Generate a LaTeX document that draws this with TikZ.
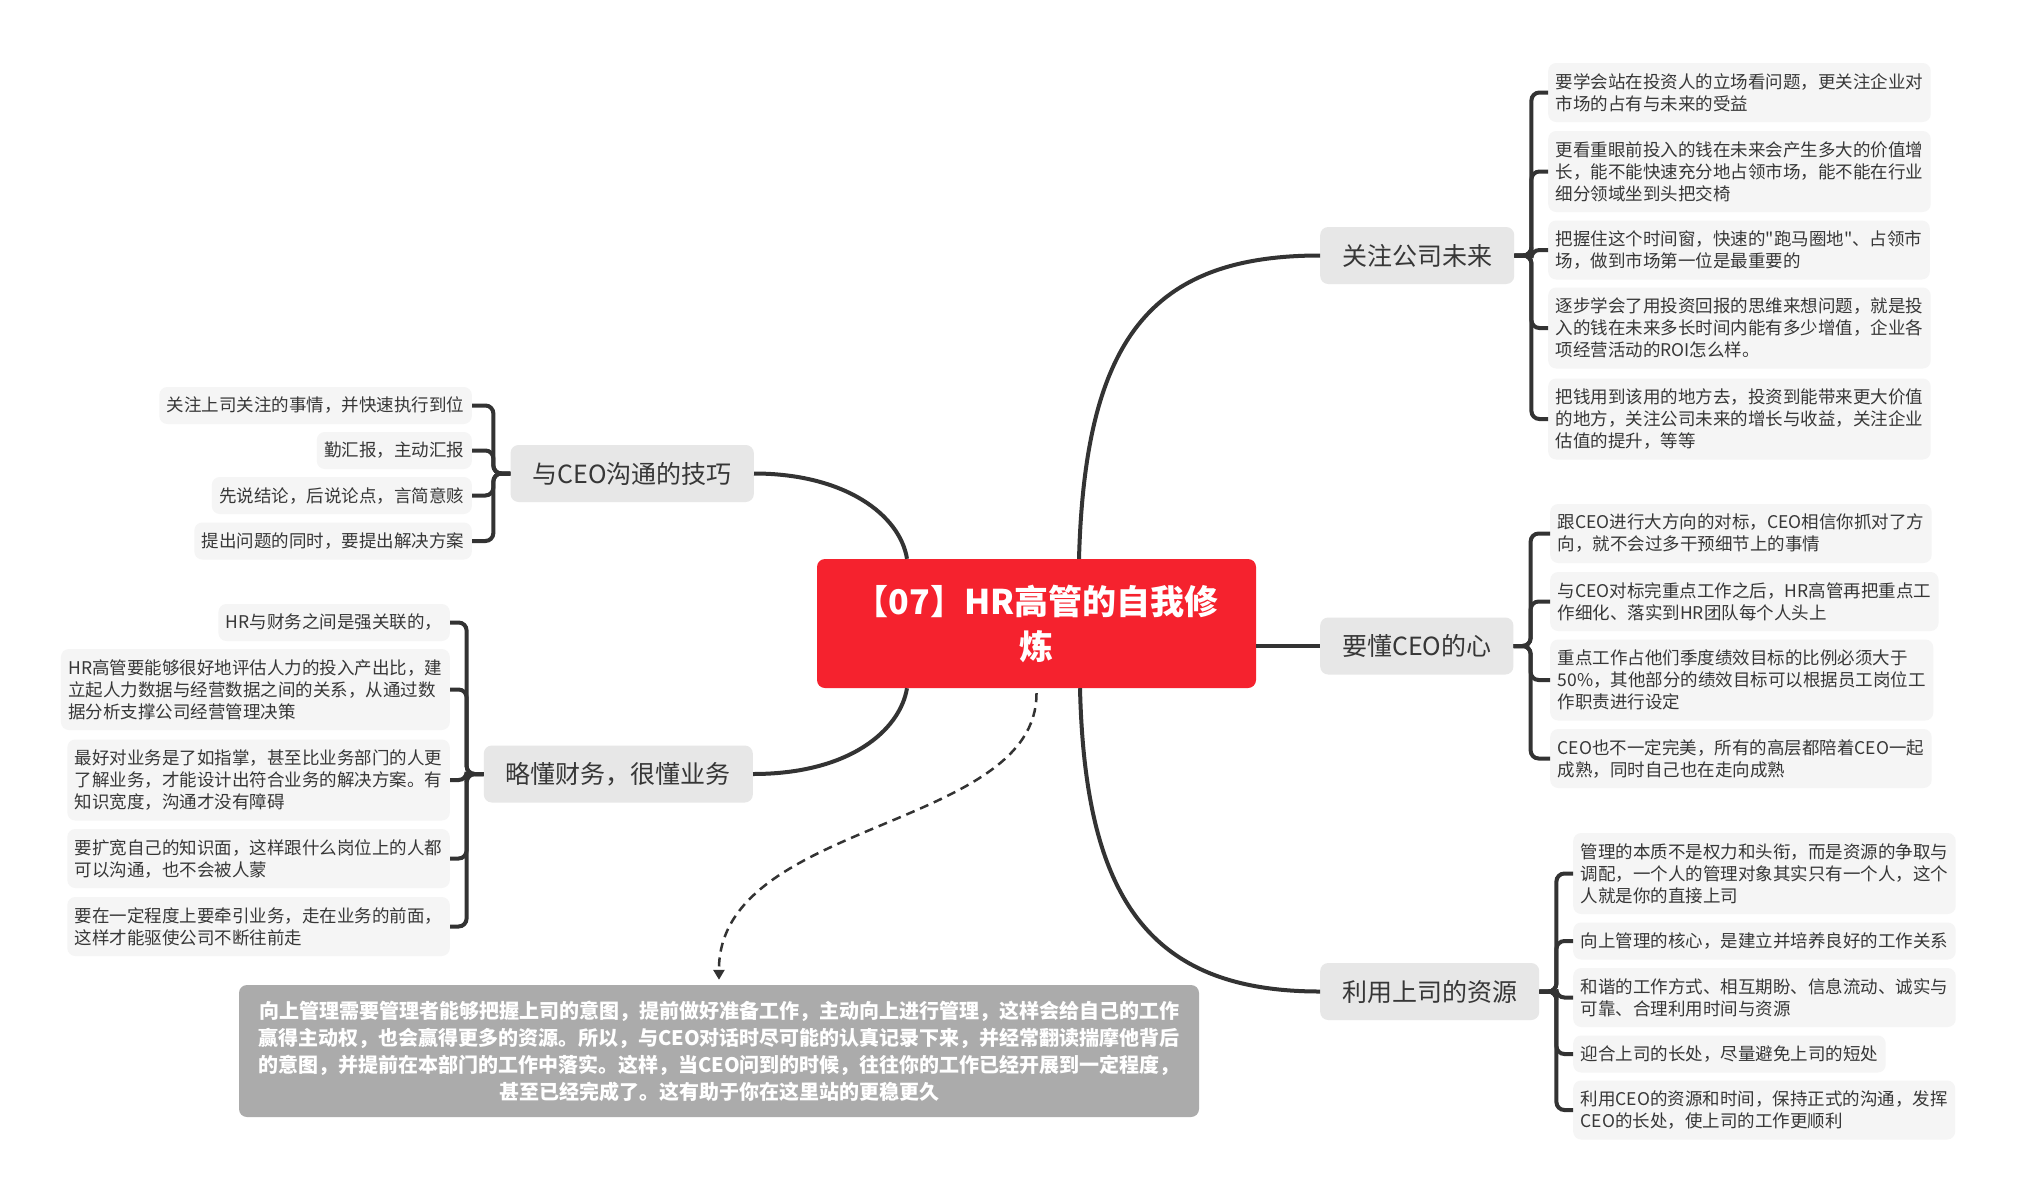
\documentclass[tikz,border=0pt]{standalone}
\usepackage{fontspec}
\setmainfont{Noto Sans CJK SC}[Ligatures=TeXOff]
\usetikzlibrary{arrows.meta}
\definecolor{linec}{RGB}{51,51,51}
\definecolor{centerred}{RGB}{245,34,46}
\definecolor{branchfill}{RGB}{231,231,231}
\definecolor{leaffill}{RGB}{245,245,245}
\definecolor{txt}{RGB}{55,55,55}
\definecolor{sumfill}{RGB}{171,171,171}
\begin{document}
\begin{tikzpicture}[x=1pt,y=-1pt,
  centernode/.style={fill=centerred, rounded corners=8pt, text=white, font=\fontsize{34}{45}\selectfont\bfseries, align=center, minimum width=439pt, minimum height=129pt, inner sep=0pt},
  branchnode/.style={fill=branchfill, rounded corners=8pt, text=txt, font=\fontsize{25}{30}\selectfont, minimum height=57pt, inner xsep=22pt, inner ysep=0pt},
  leafnode/.style={fill=leaffill, rounded corners=8pt, text=txt, font=\fontsize{17.5}{22}\selectfont, align=left, inner xsep=7.5pt, inner ysep=0pt},
  lfone/.style={leafnode, minimum height=37pt},
  lftwo/.style={leafnode, minimum height=59pt},
  lfthree/.style={leafnode, minimum height=81pt},
  sumnode/.style={fill=sumfill, rounded corners=8pt, text=white, font=\fontsize{20}{27}\selectfont\bfseries, align=center, minimum width=960pt, minimum height=132pt, inner sep=0pt},
  mainline/.style={draw=linec, line width=4pt},
  brk/.style={draw=linec, line width=4pt, rounded corners=8pt},
  dashconn/.style={draw=linec, line width=2.5pt, dash pattern=on 9pt off 6pt, -{Triangle[width=11pt,length=10pt]}}
]
\fill[white] (0,0) rectangle (2020,1202);
\useasboundingbox (0,0) rectangle (2020,1202);

% central node
\node[centernode] (C) at (1036.5,623.5) {【07】HR高管的自我修\\炼};

% branch nodes
\node[branchnode, anchor=west] (bA) at (1320,255.5) {关注公司未来};
\node[branchnode, anchor=west] (bB) at (1320,646) {要懂CEO的心};
\node[branchnode, anchor=west] (bC) at (1320,991.5) {利用上司的资源};
\node[branchnode, anchor=east] (bD) at (754,473.5) {与CEO沟通的技巧};
\node[branchnode, anchor=east] (bE) at (753,774) {略懂财务，很懂业务};

% leaves of bA
\node[lftwo, anchor=west] (a1) at (1548,92.5) {要学会站在投资人的立场看问题，更关注企业对\\市场的占有与未来的受益};
\node[lfthree, anchor=west] (a2) at (1548,171.5) {更看重眼前投入的钱在未来会产生多大的价值增\\长，能不能快速充分地占领市场，能不能在行业\\细分领域坐到头把交椅};
\node[lftwo, anchor=west] (a3) at (1548,250) {把握住这个时间窗，快速的"跑马圈地"、占领市\\场，做到市场第一位是最重要的};
\node[lfthree, anchor=west] (a4) at (1548,328) {逐步学会了用投资回报的思维来想问题，就是投\\入的钱在未来多长时间内能有多少增值，企业各\\项经营活动的ROI怎么样。};
\node[lfthree, anchor=west] (a5) at (1548,419) {把钱用到该用的地方去，投资到能带来更大价值\\的地方，关注公司未来的增长与收益，关注企业\\估值的提升，等等};

% leaves of bB
\node[lftwo, anchor=west] (c1) at (1550,533.5) {跟CEO进行大方向的对标，CEO相信你抓对了方\\向，就不会过多干预细节上的事情};
\node[lftwo, anchor=west] (c2) at (1550,601.5) {与CEO对标完重点工作之后，HR高管再把重点工\\作细化、落实到HR团队每个人头上};
\node[lfthree, anchor=west] (c3) at (1550,680) {重点工作占他们季度绩效目标的比例必须大于\\50\%，其他部分的绩效目标可以根据员工岗位工\\作职责进行设定};
\node[lftwo, anchor=west] (c4) at (1550,758.5) {CEO也不一定完美，所有的高层都陪着CEO一起\\成熟，同时自己也在走向成熟};

% leaves of bC
\node[lfthree, anchor=west] (d1) at (1573,873.5) {管理的本质不是权力和头衔，而是资源的争取与\\调配，一个人的管理对象其实只有一个人，这个\\人就是你的直接上司};
\node[lfone, anchor=west] (d2) at (1573,941) {向上管理的核心，是建立并培养良好的工作关系};
\node[lftwo, anchor=west] (d3) at (1573,997.5) {和谐的工作方式、相互期盼、信息流动、诚实与\\可靠、合理利用时间与资源};
\node[lfone, anchor=west] (d4) at (1573,1054) {迎合上司的长处，尽量避免上司的短处};
\node[lftwo, anchor=west] (d5) at (1573,1110) {利用CEO的资源和时间，保持正式的沟通，发挥\\CEO的长处，使上司的工作更顺利};

% leaves of bD
\node[lfone, anchor=east] (e1) at (472,405.5) {关注上司关注的事情，并快速执行到位};
\node[lfone, anchor=east] (e2) at (472,450.5) {勤汇报，主动汇报};
\node[lfone, anchor=east] (e3) at (472,495.5) {先说结论，后说论点，言简意赅};
\node[lfone, anchor=east] (e4) at (472,541) {提出问题的同时，要提出解决方案};

% leaves of bE
\node[lfone, anchor=east] (f1) at (450,622.5) {HR与财务之间是强关联的，};
\node[lfthree, anchor=east] (f2) at (450,689.5) {HR高管要能够很好地评估人力的投入产出比，建\\立起人力数据与经营数据之间的关系，从通过数\\据分析支撑公司经营管理决策};
\node[lfthree, anchor=east] (f3) at (450,780) {最好对业务是了如指掌，甚至比业务部门的人更\\了解业务，才能设计出符合业务的解决方案。有\\知识宽度，沟通才没有障碍};
\node[lftwo, anchor=east] (f4) at (450,858.5) {要扩宽自己的知识面，这样跟什么岗位上的人都\\可以沟通，也不会被人蒙};
\node[lftwo, anchor=east] (f5) at (450,926.5) {要在一定程度上要牵引业务，走在业务的前面，\\这样才能驱使公司不断往前走};

% summary
\node[sumnode] (S) at (719,1051) {向上管理需要管理者能够把握上司的意图，提前做好准备工作，主动向上进行管理，这样会给自己的工作\\赢得主动权，也会赢得更多的资源。所以，与CEO对话时尽可能的认真记录下来，并经常翻读揣摩他背后\\的意图，并提前在本部门的工作中落实。这样，当CEO问到的时候，往往你的工作已经开展到一定程度，\\甚至已经完成了。这有助于你在这里站的更稳更久};

% main connectors
\draw[mainline] ([xshift=42.5pt]C.north) .. controls (1085,340) and (1150,255.5) .. (bA.west);
\draw[mainline] (C.east |- bB.west) -- (bB.west);
\draw[mainline] ([xshift=43.5pt]C.south) .. controls (1085,900) and (1150,991.5) .. (bC.west);
\draw[mainline] ([xshift=-129.5pt]C.north) .. controls (900,515) and (845,473.5) .. (bD.east);
\draw[mainline] ([xshift=-129.5pt]C.south) .. controls (900,730) and (850,774) .. (bE.east);

% brackets
\foreach \l in {a1,a2,a3,a4,a5} \draw[brk] (bA.east) -- ++(17,0) |- (\l.west);
\foreach \l in {c1,c2,c3,c4} \draw[brk] (bB.east) -- ++(17,0) |- (\l.west);
\foreach \l in {d1,d2,d3,d4,d5} \draw[brk] (bC.east) -- ++(17,0) |- (\l.west);
\foreach \l in {e1,e2,e3,e4} \draw[brk] (bD.west) -- ++(-17,0) |- (\l.east);
\foreach \l in {f1,f2,f3,f4,f5} \draw[brk] (bE.west) -- ++(-17,0) |- (\l.east);

% dashed relation
\draw[dashconn] ([yshift=-5pt]C.south) .. controls (1037,830) and (718,820) .. ([yshift=5pt]S.north);
\end{tikzpicture}
\end{document}
